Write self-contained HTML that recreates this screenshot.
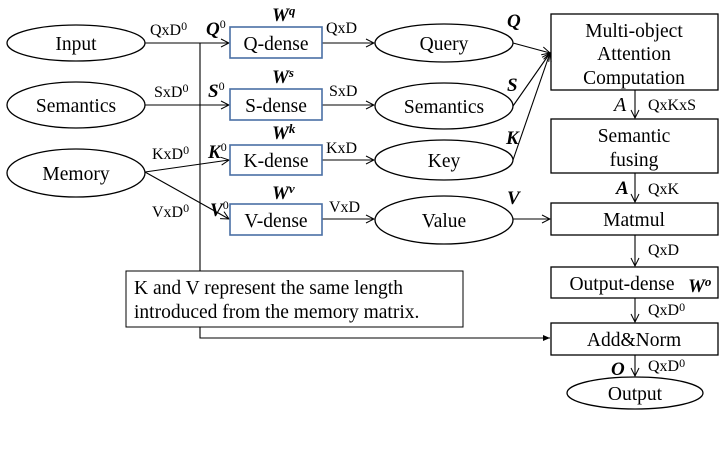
<!DOCTYPE html>
<html><head><meta charset="utf-8"><style>
html,body{margin:0;padding:0;background:#fff;}
svg text{font-family:"Liberation Serif",serif;fill:#000;}
.t{font-size:19.5px;}
.s{font-size:16px;}
.b{font-weight:bold;font-style:italic;font-size:19px;}
</style></head><body>
<svg width="728" height="458" viewBox="0 0 728 458" xmlns="http://www.w3.org/2000/svg">
<defs>
<marker id="a" markerWidth="10" markerHeight="10" refX="9" refY="5" orient="auto" markerUnits="userSpaceOnUse">
<path d="M1,1 L9,5 L1,9" fill="none" stroke="#000" stroke-width="1"/></marker>
<marker id="f" markerWidth="8" markerHeight="8" refX="7" refY="4" orient="auto" markerUnits="userSpaceOnUse">
<path d="M0,1 L7,4 L0,7 z" fill="#000"/></marker>
</defs>
<g fill="none" stroke="#000" stroke-width="1.1">
<line x1="145" y1="43" x2="229" y2="43" marker-end="url(#a)"/>
<line x1="145" y1="105" x2="229" y2="105" marker-end="url(#a)"/>
<line x1="145" y1="172" x2="229" y2="160" marker-end="url(#a)"/>
<line x1="145" y1="172" x2="229" y2="219" marker-end="url(#a)"/>
<polyline points="200,43 200,338 550,338" marker-end="url(#f)"/>
<line x1="322" y1="43" x2="374" y2="43" marker-end="url(#a)"/>
<line x1="322" y1="105" x2="374" y2="105" marker-end="url(#a)"/>
<line x1="322" y1="160" x2="374" y2="160" marker-end="url(#a)"/>
<line x1="322" y1="219" x2="374" y2="219" marker-end="url(#a)"/>
<line x1="513" y1="43" x2="550" y2="53" marker-end="url(#a)"/>
<line x1="513" y1="106" x2="550" y2="53" marker-end="url(#a)"/>
<line x1="513" y1="160" x2="550" y2="53" marker-end="url(#a)"/>
<line x1="513" y1="219" x2="550" y2="219" marker-end="url(#a)"/>
<line x1="635" y1="90" x2="635" y2="118" marker-end="url(#a)"/>
<line x1="635" y1="173" x2="635" y2="202" marker-end="url(#a)"/>
<line x1="635" y1="235" x2="635" y2="266" marker-end="url(#a)"/>
<line x1="635" y1="298" x2="635" y2="322" marker-end="url(#a)"/>
<line x1="635" y1="355" x2="635" y2="376" marker-end="url(#a)"/>
</g>
<g fill="none" stroke="#000" stroke-width="1.3">
<ellipse cx="76" cy="43" rx="69" ry="18"/>
<ellipse cx="76" cy="105" rx="69" ry="23"/>
<ellipse cx="76" cy="173" rx="69" ry="24"/>
<ellipse cx="444" cy="43" rx="69" ry="19"/>
<ellipse cx="444" cy="106" rx="69" ry="23"/>
<ellipse cx="444" cy="160" rx="69" ry="20"/>
<ellipse cx="444" cy="220" rx="69" ry="24"/>
<ellipse cx="635" cy="393" rx="68" ry="16"/>
<rect x="551" y="14" width="167" height="76"/>
<rect x="551" y="119" width="167" height="54"/>
<rect x="551" y="203" width="167" height="32"/>
<rect x="551" y="267" width="167" height="31"/>
<rect x="551" y="323" width="167" height="32"/>
<rect x="126" y="271" width="337" height="56" stroke-width="1" fill="#fff"/>
</g>
<g fill="none" stroke="#4a6fa5" stroke-width="1.6">
<rect x="230" y="27" width="92" height="31"/>
<rect x="230" y="89" width="92" height="31"/>
<rect x="230" y="145" width="92" height="30"/>
<rect x="230" y="204" width="92" height="31"/>
</g>
<g class="t" text-anchor="middle">
<text x="76" y="50">Input</text>
<text x="76" y="112">Semantics</text>
<text x="76" y="180">Memory</text>
<text x="276" y="50">Q-dense</text>
<text x="276" y="112">S-dense</text>
<text x="276" y="167">K-dense</text>
<text x="276" y="227">V-dense</text>
<text x="444" y="50">Query</text>
<text x="444" y="113">Semantics</text>
<text x="444" y="167">Key</text>
<text x="444" y="227">Value</text>
<text x="634" y="37">Multi-object</text>
<text x="634" y="60">Attention</text>
<text x="634" y="84">Computation</text>
<text x="634" y="142">Semantic</text>
<text x="634" y="166">fusing</text>
<text x="634" y="226">Matmul</text>
<text x="622" y="290">Output-dense</text>
<text x="634" y="346">Add&amp;Norm</text>
<text x="635" y="400">Output</text>
</g>
<g class="t">
<text x="134" y="294">K and V represent the same length</text>
<text x="134" y="318">introduced from the memory matrix.</text>
</g>
<g class="s">
<text x="150" y="35">QxD<tspan font-size="12" dy="-5">0</tspan></text>
<text x="154" y="97">SxD<tspan font-size="12" dy="-5">0</tspan></text>
<text x="152" y="159">KxD<tspan font-size="12" dy="-5">0</tspan></text>
<text x="152" y="217">VxD<tspan font-size="12" dy="-5">0</tspan></text>
<text x="326" y="33">QxD</text>
<text x="329" y="96">SxD</text>
<text x="326" y="153">KxD</text>
<text x="329" y="212">VxD</text>
<text x="648" y="110">QxKxS</text>
<text x="648" y="194">QxK</text>
<text x="648" y="255">QxD</text>
<text x="648" y="315">QxD<tspan font-size="12" dy="-4">0</tspan></text>
<text x="648" y="371">QxD<tspan font-size="12" dy="-4">0</tspan></text>
</g>
<g class="b">
<text x="206" y="35">Q<tspan font-size="12" font-weight="normal" font-style="normal" dy="-7">0</tspan></text>
<text x="208" y="97">S<tspan font-size="12" font-weight="normal" font-style="normal" dy="-7">0</tspan></text>
<text x="208" y="158">K<tspan font-size="12" font-weight="normal" font-style="normal" dy="-7">0</tspan></text>
<text x="210" y="216">V<tspan font-size="12" font-weight="normal" font-style="normal" dy="-7">0</tspan></text>
<text x="272" y="21">W<tspan font-size="13" dy="-6">q</tspan></text>
<text x="272" y="83">W<tspan font-size="13" dy="-6">s</tspan></text>
<text x="272" y="139">W<tspan font-size="13" dy="-6">k</tspan></text>
<text x="272" y="199">W<tspan font-size="13" dy="-6">v</tspan></text>
<text x="507" y="27">Q</text>
<text x="507" y="91">S</text>
<text x="506" y="144">K</text>
<text x="507" y="204">V</text>
<text x="616" y="194">A</text>
<text x="611" y="375">O</text>
<text x="688" y="292">W<tspan font-size="13" dy="-6">o</tspan></text>
</g>
<text x="614" y="111" font-family="Liberation Serif, serif" font-style="italic" font-size="20" fill="#1a3a8a">A</text>
</svg>
</body></html>
